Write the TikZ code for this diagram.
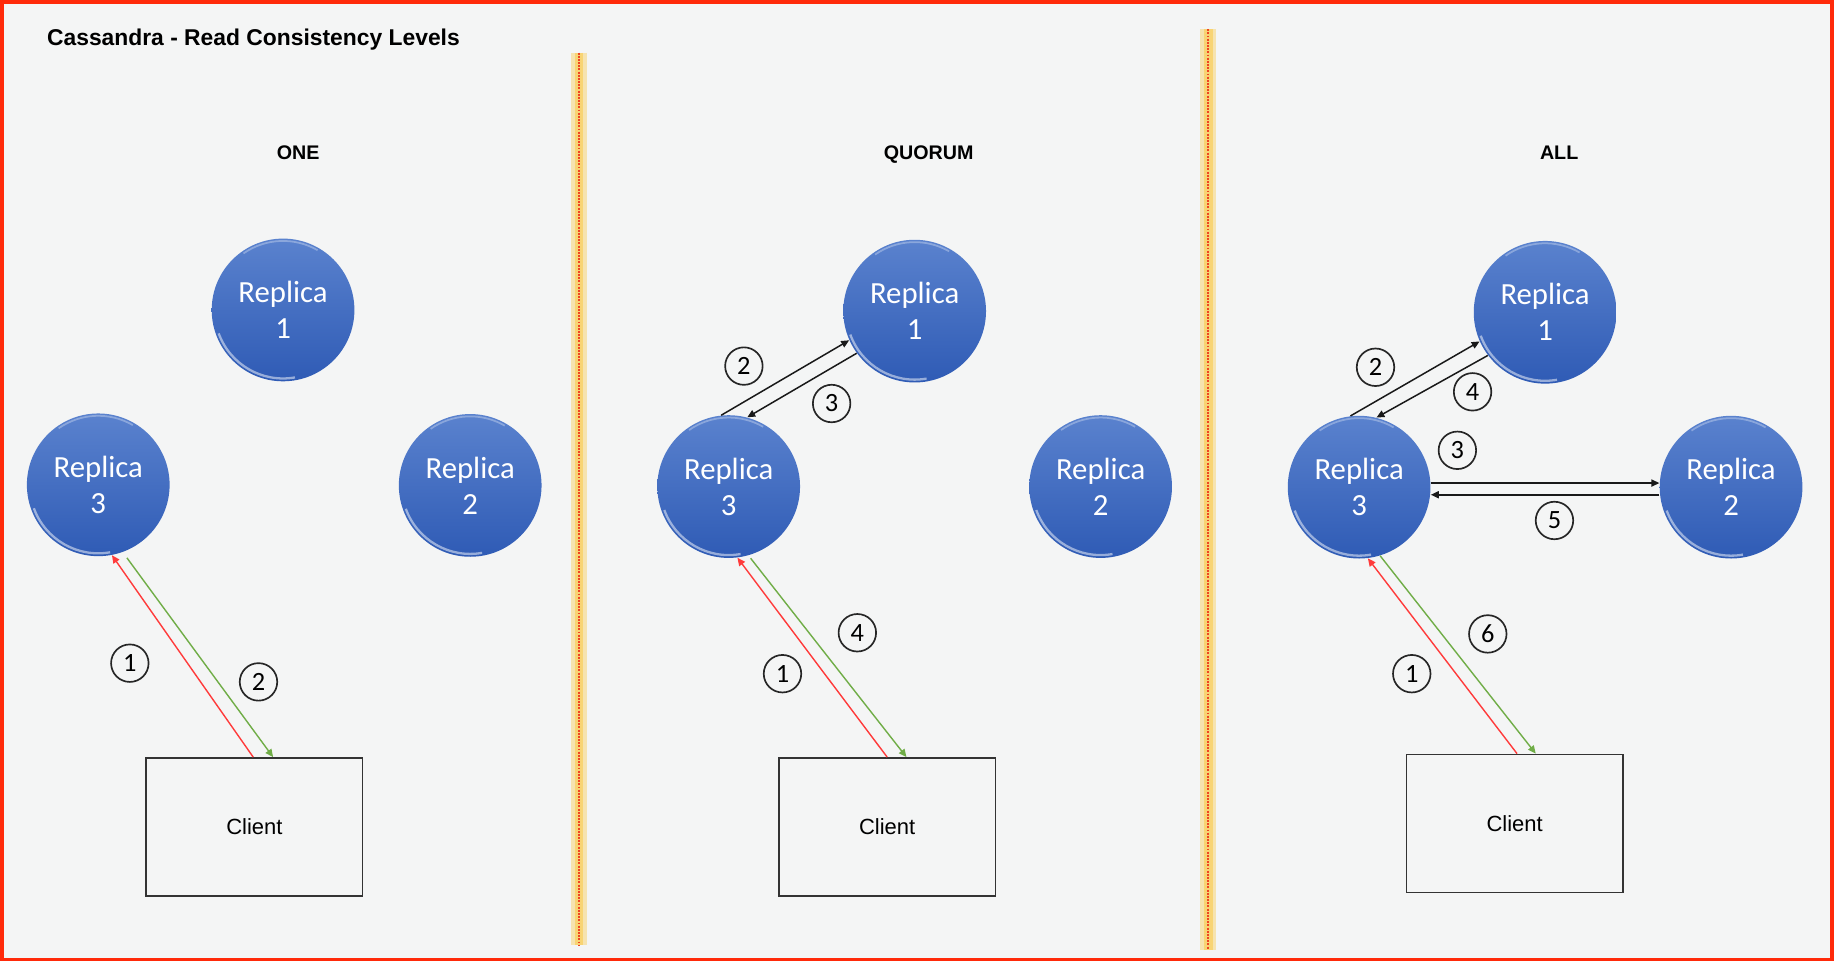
\documentclass[tikz,border=0pt]{standalone}
\usepackage{fontspec}
\setmainfont{Liberation Sans}
\newfontfamily\replicafont{Carlito}
\usepackage{xcolor}
\usetikzlibrary{arrows.meta, shapes.geometric}
\definecolor{bgGray}{HTML}{F4F5F5}
\definecolor{frameRed}{HTML}{FF2A0A}
\definecolor{repTop}{HTML}{5A82CE}
\definecolor{repBot}{HTML}{2F5BB5}
\definecolor{reqRed}{HTML}{FF3B3B}
\definecolor{respGreen}{HTML}{70AD47}
\definecolor{glowYellow}{HTML}{F9CF5A}
\definecolor{dotRed}{HTML}{EE4422}
\newcommand{\pxu}{0.02339cm}
\tikzset{
  replica/.style   = {circle, minimum size=2.854cm, inner sep=0pt,
                      top color=repTop, bottom color=repBot,
                      text=white, align=center,
                      font=\replicafont\fontsize{17.5}{20.5}\selectfont,
                      path picture={
                        \draw[white, opacity=.5, line width=1.3pt]
                          (path picture bounding box.center) ++(200:1.37cm) arc (200:280:1.37cm);
                        \draw[white, opacity=.3, line width=1pt]
                          (path picture bounding box.center) ++(60:1.38cm) arc (60:125:1.38cm);
                      }},
  client/.style    = {rectangle, draw=black!80, line width=0.9pt, fill=bgGray,
                      minimum width=4.33cm, minimum height=2.76cm,
                      font=\fontsize{12.5}{15}\selectfont},
  stepnum/.style   = {circle, draw=black!85, line width=0.95pt, minimum size=0.75cm,
                      inner sep=0pt, font=\replicafont\fontsize{15}{17}\selectfont},
  level/.style     = {anchor=base, font=\bfseries\fontsize{11.2}{13}\selectfont},
  msgarrow/.style  = {-{Triangle[length=4.5pt,width=4pt]}, line width=0.85pt, black!90},
  reqarrow/.style  = {msgarrow, reqRed, line width=0.8pt},
  resparrow/.style = {msgarrow, respGreen, line width=0.8pt},
  glow/.style      = {line width=9pt, glowYellow, opacity=.45},
  divider/.style   = {line width=1.4pt, dotRed, dash pattern=on 1.1pt off 0.7pt}
}

\begin{document}
\begin{tikzpicture}[x=\pxu, y=-\pxu]
  \useasboundingbox (0,0) rectangle (1568,822);
  \fill[bgGray] (0,0) rectangle (1568,822);
  \draw[frameRed, line width=2.2pt] (1.7,1.7) rectangle (1566.3,820.3);

  % dividers
  \foreach \xd/\ya/\yb in {495/45/808, 1033/25/812} {
    \draw[glow] (\xd,\ya) -- (\xd,\yb);
    \draw[glow, line width=5pt, opacity=.7] (\xd,\ya) -- (\xd,\yb);
    \draw[divider] (\xd,\ya) -- (\xd,\yb);
  }

  \node[anchor=west, inner sep=0pt, font=\bfseries\fontsize{13}{15}\selectfont]
    (title) at (40,34) {Cassandra - Read Consistency Levels};

  % ONE
  \node[level] (oneHead) at (255,136) {ONE};
  \node[replica] (oneR1) at (242,265) {Replica\\1};
  \node[replica] (oneR3) at (84,414.5) {Replica\\3};
  \node[replica] (oneR2) at (402,415) {Replica\\2};
  \node[client] (oneCl) at (217.5,707) {Client};
  \draw[reqarrow] ([xshift=-1*\pxu]oneCl.north) -- (oneR3.281);
  \draw[resparrow, shorten <=4pt] (oneR3.290) -- ([xshift=16*\pxu]oneCl.north);
  \node[stepnum] (oneS1) at (111,567) {1};
  \node[stepnum] (oneS2) at (221,583) {2};

  % QUORUM
  \node[level] (quoHead) at (794,136) {QUORUM};
  \node[replica] (quoR1) at (782,266) {Replica\\1};
  \node[replica] (quoR3) at (623,416) {Replica\\3};
  \node[replica] (quoR2) at (941,416) {Replica\\2};
  \node[client] (quoCl) at (758.5,707) {Client};
  \draw[reqarrow] (quoCl.north) -- (quoR3.277);
  \draw[resparrow, shorten <=2pt] (quoR3.286) -- ([xshift=16.5*\pxu]quoCl.north);
  \draw[msgarrow] (quoR3.96) -- (quoR1.204);
  \draw[msgarrow] (quoR1.216) -- (quoR3.75);
  \node[stepnum] (quoS2) at (636,313) {2};
  \node[stepnum] (quoS3) at (711,345) {3};
  \node[stepnum] (quoS1) at (669,576) {1};
  \node[stepnum] (quoS4) at (733,541) {4};

  % ALL
  \node[level] (allHead) at (1333,136) {ALL};
  \node[replica] (allR1) at (1321,267) {Replica\\1};
  \node[replica] (allR3) at (1162,416.5) {Replica\\3};
  \node[replica] (allR2) at (1480,416.5) {Replica\\2};
  \node[client] (allCl) at (1295,704) {Client};
  \draw[reqarrow] ([xshift=2*\pxu]allCl.north) -- (allR3.277);
  \draw[resparrow] (allR3.287) -- ([xshift=18*\pxu]allCl.north);
  \draw[msgarrow] (allR3.97) -- (allR1.204);
  \draw[msgarrow] (allR1.217) -- (allR3.76);
  \draw[msgarrow] ([yshift=3.5*\pxu]allR3.east) -- ([yshift=3.5*\pxu]allR2.west);
  \draw[msgarrow] ([yshift=-6.5*\pxu]allR2.west) -- ([yshift=-6.5*\pxu]allR3.east);
  \node[stepnum] (allS2) at (1176,314) {2};
  \node[stepnum] (allS4) at (1259,335) {4};
  \node[stepnum] (allS3) at (1246,385) {3};
  \node[stepnum] (allS5) at (1329,445) {5};
  \node[stepnum] (allS6) at (1272,542) {6};
  \node[stepnum] (allS1) at (1207,576) {1};
\end{tikzpicture}
\end{document}
